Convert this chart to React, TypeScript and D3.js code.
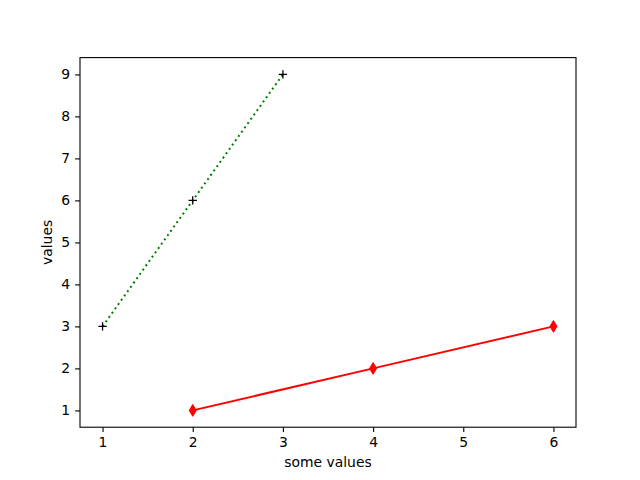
import { useEffect, useRef } from 'react'
import * as d3 from 'd3'

// series data
const greenX = [1, 2, 3]
const greenY = [3, 6, 9]
const redX = [2, 4, 6]
const redY = [1, 2, 3]

const xTicks = [1, 2, 3, 4, 5, 6]
const yTicks = [1, 2, 3, 4, 5, 6, 7, 8, 9]

const W = 640
const H = 480
const M = { top: 57.6, right: 64, bottom: 52.8, left: 80 }
const FONT = 'DejaVu Sans, sans-serif'

export default function App() {
  const ref = useRef<SVGSVGElement>(null)

  useEffect(() => {
    if (!ref.current) return
    const svg = d3.select(ref.current)
    svg.selectAll('*').remove()

    const x = d3.scaleLinear().domain([0.75, 6.25]).range([M.left, W - M.right])
    const y = d3.scaleLinear().domain([0.6, 9.4]).range([H - M.bottom, M.top])

    svg.append('rect').attr('width', W).attr('height', H).attr('fill', 'white')

    const line = d3.line<[number, number]>().x(d => x(d[0])).y(d => y(d[1]))

    // ── Green dotted line with black plus markers ──────────────────────────
    const g1 = d3.zip(greenX, greenY) as [number, number][]
    svg.append('path')
      .attr('d', line(g1)!)
      .attr('fill', 'none')
      .attr('stroke', '#008000')
      .attr('stroke-width', 2)
      .attr('stroke-dasharray', '2,3.3')

    svg.append('g').selectAll('path')
      .data(g1)
      .join('path')
      .attr('d', d => {
        const cx = x(d[0]), cy = y(d[1]), r = 4.2
        return `M${cx - r},${cy}H${cx + r}M${cx},${cy - r}V${cy + r}`
      })
      .attr('stroke', 'black')
      .attr('stroke-width', 1.3)

    // ── Red solid line with thin diamond markers ───────────────────────────
    const r1 = d3.zip(redX, redY) as [number, number][]
    svg.append('path')
      .attr('d', line(r1)!)
      .attr('fill', 'none')
      .attr('stroke', 'red')
      .attr('stroke-width', 2)

    svg.append('g').selectAll('path')
      .data(r1)
      .join('path')
      .attr('d', d => {
        const cx = x(d[0]), cy = y(d[1]), h = 5.9, w = 3.5
        return `M${cx},${cy - h}L${cx + w},${cy}L${cx},${cy + h}L${cx - w},${cy}Z`
      })
      .attr('fill', 'red')
      .attr('stroke', 'red')
      .attr('stroke-width', 1)

    // ── Axes ───────────────────────────────────────────────────────────────
    const xAxis = svg.append('g')
      .attr('transform', `translate(0,${H - M.bottom})`)
      .call(d3.axisBottom(x).tickValues(xTicks).tickSize(4.9).tickPadding(4.9).tickFormat(d3.format('d')))
    const yAxis = svg.append('g')
      .attr('transform', `translate(${M.left},0)`)
      .call(d3.axisLeft(y).tickValues(yTicks).tickSize(4.9).tickPadding(4.9).tickFormat(d3.format('d')))

    for (const a of [xAxis, yAxis]) {
      a.select('.domain').remove()
      a.selectAll('line').attr('stroke', 'black').attr('stroke-width', 1.1)
      a.selectAll('text').attr('font-family', FONT).attr('font-size', 13.9).attr('fill', 'black')
    }

    svg.append('rect')
      .attr('x', M.left)
      .attr('y', M.top)
      .attr('width', W - M.left - M.right)
      .attr('height', H - M.top - M.bottom)
      .attr('fill', 'none')
      .attr('stroke', 'black')
      .attr('stroke-width', 1.1)

    svg.append('text')
      .attr('x', (M.left + W - M.right) / 2)
      .attr('y', 467)
      .attr('text-anchor', 'middle')
      .attr('font-family', FONT)
      .attr('font-size', 13.9)
      .text('some values')

    svg.append('text')
      .attr('transform', `translate(52,${(M.top + H - M.bottom) / 2}) rotate(-90)`)
      .attr('text-anchor', 'middle')
      .attr('font-family', FONT)
      .attr('font-size', 13.9)
      .text('values')
  }, [])

  return (
    <svg
      ref={ref}
      width={W}
      height={H}
      style={{ position: 'absolute', left: 0, top: 0, display: 'block' }}
    />
  )
}
